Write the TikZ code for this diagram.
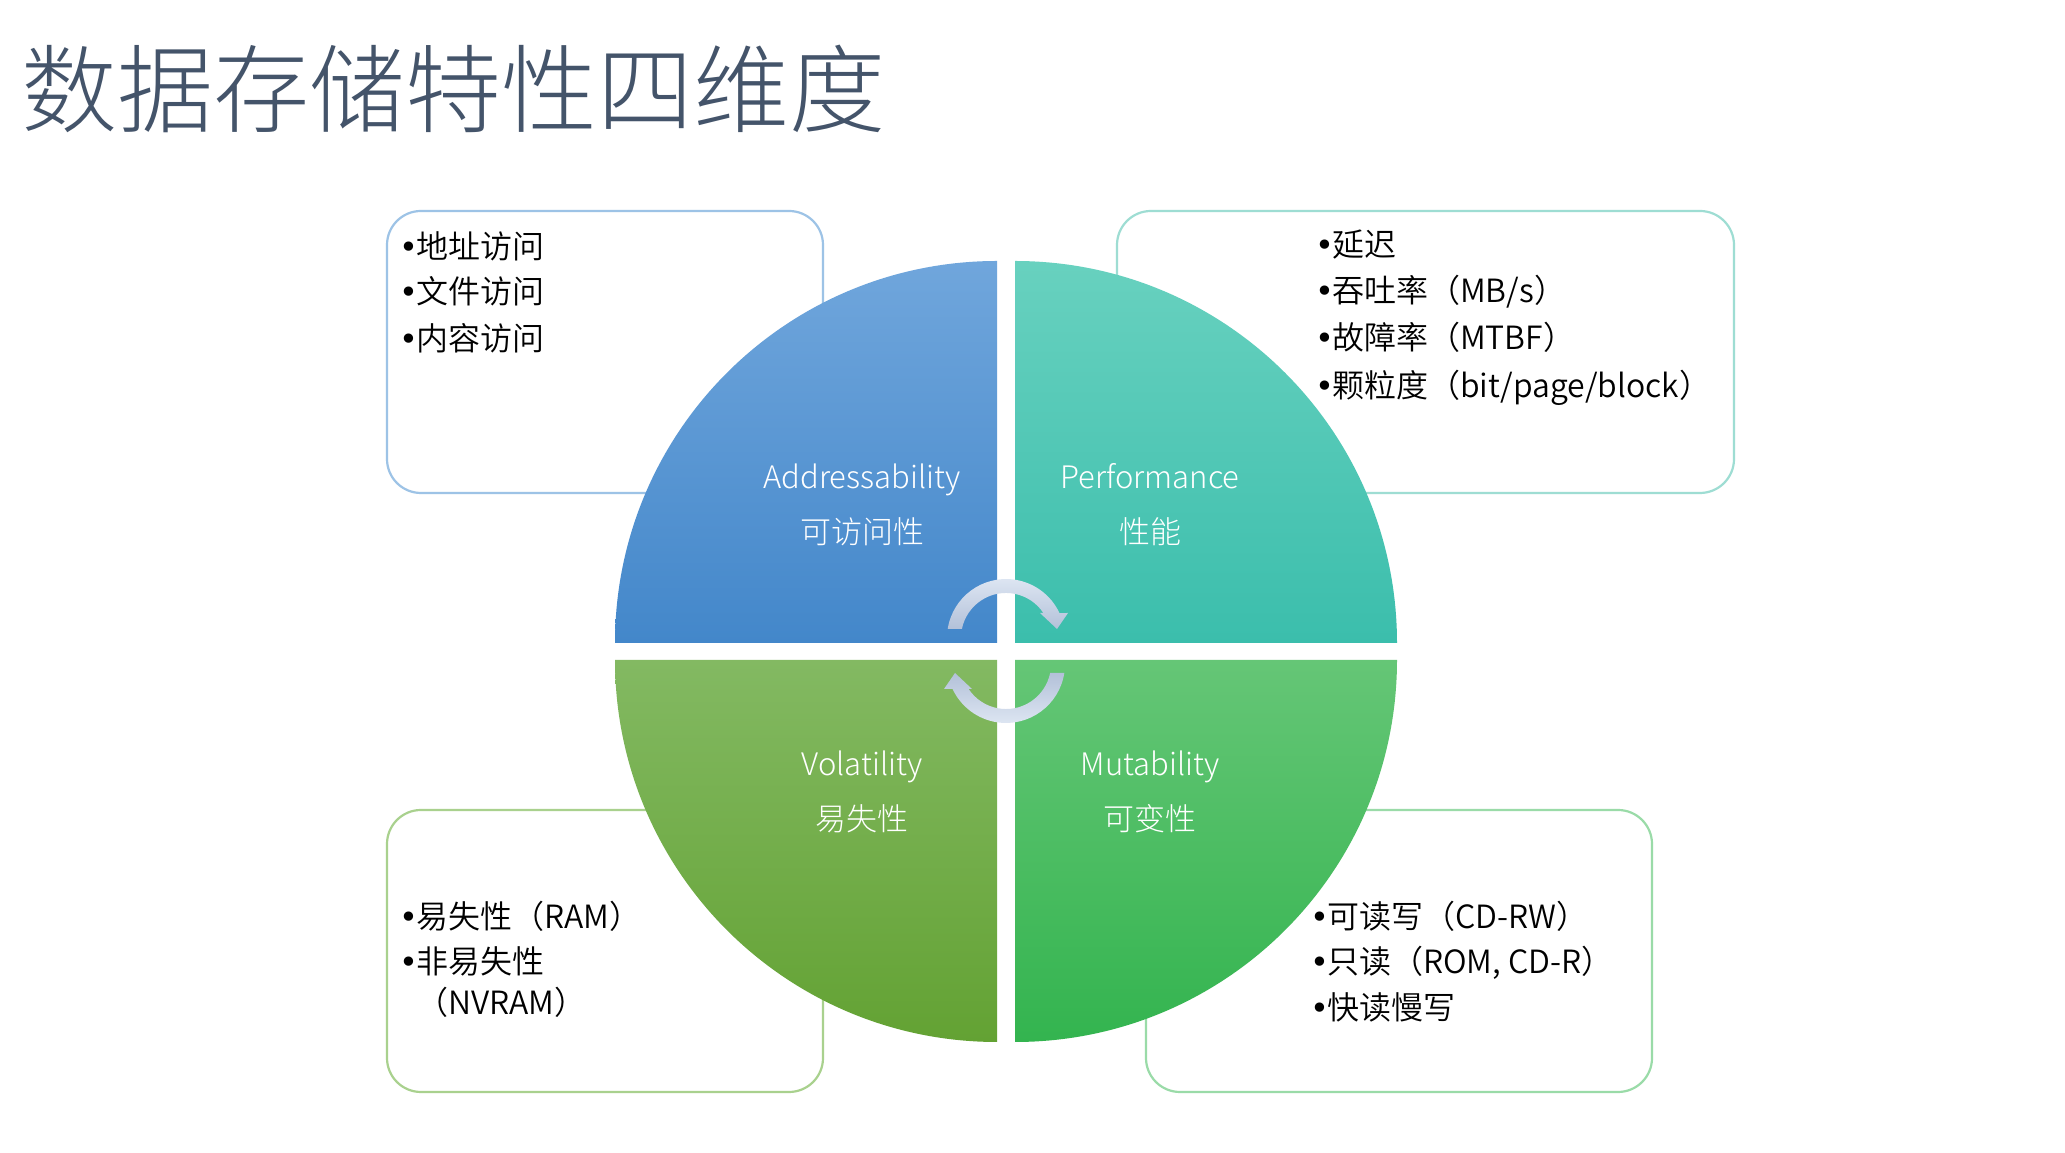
\documentclass[tikz,border=0pt]{standalone}
\usepackage{fontspec}
\setmainfont{Noto Sans CJK SC DemiLight}
\newfontfamily\lightfont{Noto Sans CJK SC Light}
\newfontfamily\bulletfont{DejaVu Sans}
\definecolor{titlec}{HTML}{44546A}
\definecolor{tlA}{HTML}{70A6DC}
\definecolor{tlB}{HTML}{4387CA}
\definecolor{trA}{HTML}{68D1BF}
\definecolor{trB}{HTML}{3BBEAC}
\definecolor{blA}{HTML}{83B962}
\definecolor{blB}{HTML}{63A233}
\definecolor{brA}{HTML}{65C676}
\definecolor{brB}{HTML}{33B44F}
\definecolor{arA}{HTML}{E0E8F4}
\definecolor{arB}{HTML}{B3C1D9}
\definecolor{bxTL}{HTML}{9DC3E6}
\definecolor{bxTR}{HTML}{9EDDD3}
\definecolor{bxBL}{HTML}{A9D18E}
\definecolor{bxBR}{HTML}{9ADBA8}
\newcommand\mybullet{\makebox[14pt][c]{\bulletfont •}}
\begin{document}
\begin{tikzpicture}[x=1pt,y=1pt,
  boxframe/.style={draw, line width=2.2pt, rounded corners=34pt, inner sep=0pt, fill=white, minimum height=282pt},
  quadlabel/.style={text=white, font=\lightfont\fontsize{31}{31}\selectfont, anchor=base, inner sep=0pt},
  boxtext/.style={text=black, font=\fontsize{32}{32}\selectfont, anchor=base west, inner sep=0pt}]
\useasboundingbox (0,0) rectangle (2065,1153);
\fill[white] (0,0) rectangle (2065,1153);

% title
\node[anchor=base west, inner sep=0pt, text=titlec, font=\lightfont\fontsize{96}{96}\selectfont] (title) at (21,1027.5) {数据存储特性四维度};

% frames
\node[boxframe, draw=bxTL, minimum width=436pt] (boxTL) at (605,801) {};
\node[boxframe, draw=bxTR, minimum width=617pt] (boxTR) at (1425.5,801) {};
\node[boxframe, draw=bxBL, minimum width=436pt] (boxBL) at (605,202) {};
\node[boxframe, draw=bxBR, minimum width=506pt] (boxBR) at (1399,202) {};

% quadrants
\shade[top color=tlA, bottom color=tlB] (997,510) -- (615,510) arc[start angle=180, end angle=90, radius=382] -- cycle;
\shade[top color=trA, bottom color=trB] (1015,510) -- (1015,892) arc[start angle=90, end angle=0, radius=382] -- cycle;
\shade[top color=blA, bottom color=blB] (997,493) -- (997,111) arc[start angle=270, end angle=180, radius=382] -- cycle;
\shade[top color=brA, bottom color=brB] (1015,493) -- (1397,493) arc[start angle=0, end angle=-90, radius=382] -- cycle;

% circular arrows
\shade[top color=arA, bottom color=arB] (947.7,524) arc[start angle=171.2, end angle=25, radius=59] -- (1068,540) -- (1057,524) -- (1040,540) -- (1043.4,540) arc[start angle=33.7, end angle=168.5, radius=45] -- cycle;
\begin{scope}[rotate around={180:(1006,502)}]
\shade[top color=arB, bottom color=arA] (947.7,524) arc[start angle=171.2, end angle=25, radius=59] -- (1068,540) -- (1057,524) -- (1040,540) -- (1043.4,540) arc[start angle=33.7, end angle=168.5, radius=45] -- cycle;
\end{scope}

% quadrant labels
\node[quadlabel] (qa1) at (862,664) {Addressability};
\node[quadlabel] (qa2) at (862,609) {可访问性};
\node[quadlabel] (qp1) at (1150,664) {Performance};
\node[quadlabel] (qp2) at (1150,609) {性能};
\node[quadlabel] (qv1) at (862,377) {Volatility};
\node[quadlabel] (qv2) at (862,322) {易失性};
\node[quadlabel] (qm1) at (1150,377) {Mutability};
\node[quadlabel] (qm2) at (1150,322) {可变性};

% box texts
\node[boxtext] (tl1) at (402,894) {\mybullet 地址访问};
\node[boxtext] (tl2) at (402,849) {\mybullet 文件访问};
\node[boxtext] (tl3) at (402,802) {\mybullet 内容访问};

\node[boxtext] (tr1) at (1318,896) {\mybullet 延迟};
\node[boxtext] (tr2) at (1318,850) {\mybullet 吞吐率（MB/s）};
\node[boxtext] (tr3) at (1318,803) {\mybullet 故障率（MTBF）};
\node[boxtext] (tr4) at (1318,755) {\mybullet 颗粒度（bit/page/block）};

\node[boxtext] (bl1) at (402,224) {\mybullet 易失性（RAM）};
\node[boxtext] (bl2) at (402,179) {\mybullet 非易失性};
\node[boxtext] (bl3) at (416,138) {（NVRAM）};

\node[boxtext] (br1) at (1313,224) {\mybullet 可读写（CD-RW）};
\node[boxtext] (br2) at (1313,179) {\mybullet 只读（ROM, CD-R）};
\node[boxtext] (br3) at (1313,133) {\mybullet 快读慢写};
\end{tikzpicture}
\end{document}
